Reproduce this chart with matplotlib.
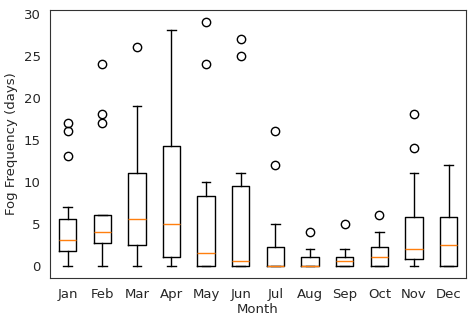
import matplotlib
matplotlib.use("Agg")
import matplotlib.pyplot as plt

months = ["Jan", "Feb", "Mar", "Apr", "May", "Jun",
          "Jul", "Aug", "Sep", "Oct", "Nov", "Dec"]
whislo = [0, 0, 0, 0, 0, 0, 0, 0, 0, 0, 0, 0]
q1 = [1.75, 2.75, 2.5, 1, 0, 0, 0, 0, 0, 0, 0.75, 0]
med = [3, 4, 5.5, 5, 1.5, 0.5, 0, 0, 0.5, 1, 2, 2.5]
q3 = [5.5, 6, 11, 14.25, 8.25, 9.5, 2.25, 1, 1, 2.25, 5.75, 5.75]
whishi = [7, 6, 19, 28, 10, 11, 5, 2, 2, 4, 11, 12]
fliers = [[13, 16, 17], [17, 18, 24], [26], [], [24, 29], [25, 27],
          [12, 16], [4], [5], [6], [14, 18], []]

plt.rcParams["text.color"] = "#262626"
plt.rcParams["axes.labelcolor"] = "#262626"
plt.rcParams["xtick.color"] = "#262626"
plt.rcParams["ytick.color"] = "#262626"

stats = []
for i in range(len(months)):
    stats.append(dict(label=months[i], whislo=whislo[i], q1=q1[i], med=med[i],
                      q3=q3[i], whishi=whishi[i], fliers=fliers[i]))

fig, ax = plt.subplots(figsize=(4.74, 3.25), dpi=100)
ax.bxp(stats, flierprops=dict(markersize=6))
ax.tick_params(length=0, labelsize=9.5, pad=7)
for s in ax.spines.values():
    s.set_color("#333333")
ax.set_xlabel("Month", fontsize=9.5, labelpad=2)
ax.set_ylabel("Fog Frequency (days)", fontsize=9.5)
fig.subplots_adjust(left=0.106, right=0.983, top=0.97, bottom=0.145)
fig.savefig("out.png")
